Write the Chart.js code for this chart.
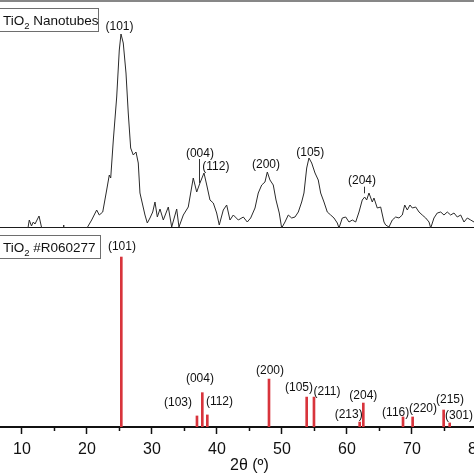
<!DOCTYPE html>
<html>
<head>
<meta charset="utf-8">
<script src="https://cdn.jsdelivr.net/npm/chart.js@4/dist/chart.umd.min.js"></script>
<style>
  html, body { margin: 0; padding: 0; background: #fff; }
  body { width: 474px; height: 474px; overflow: hidden; position: relative; }
  #topBar { position: absolute; left: 0; top: 0; width: 474px; height: 2px; background: #878787; }
  .wrap { position: absolute; left: -20px; width: 520px; }
  #topWrap { top: 2px; height: 226px; }
  #botWrap { top: 230px; height: 244px; }
</style>
</head>
<body>
<div id="topBar"></div>
<div class="wrap" id="topWrap"><canvas id="topChart"></canvas></div>
<div class="wrap" id="botWrap"><canvas id="botChart"></canvas></div>
<script>
// ================= DATA =================
// measured pattern, TiO2 nanotubes (2theta, intensity a.u.)
const twoTheta = [6.6, 10.92, 11.12, 11.46, 11.74, 12.0, 12.62, 13.03, 16.31, 16.38, 16.46, 19.08,
  19.23, 20.0, 20.72, 21.49, 21.89, 22.42, 23.03, 23.43, 23.65, 24.05, 24.57, 24.97, 25.23, 25.58,
  26.0, 26.35, 26.72, 27.12, 27.54, 27.89, 28.15, 28.57, 28.92, 29.28, 29.69, 30.11, 30.46, 30.82,
  31.23, 31.74, 32.51, 33.03, 33.8, 34.15, 34.82, 35.58, 36.35, 36.88, 37.38, 38.0, 38.42, 38.92,
  39.43, 39.95, 40.35, 40.97, 41.49, 42.0, 42.51, 43.28, 44.05, 44.66, 45.18, 45.85, 46.35, 46.88,
  47.38, 47.74, 48.15, 48.66, 49.08, 49.58, 49.95, 50.46, 50.97, 51.49, 52.0, 52.51, 53.03, 53.38,
  53.8, 54.15, 54.57, 55.08, 55.58, 55.95, 56.46, 56.97, 57.49, 58.0, 58.51, 58.77, 59.28, 59.8,
  60.31, 60.82, 61.34, 61.85, 62.35, 62.72, 63.03, 63.38, 63.89, 64.15, 64.66, 65.18, 65.69, 65.95,
  66.46, 66.97, 67.49, 68.0, 68.51, 68.88, 69.28, 69.69, 70.05, 70.57, 71.08, 71.58, 72.11, 72.62,
  72.88, 73.38, 73.89, 74.42, 74.92, 75.43, 75.95, 76.46, 76.97, 77.49, 78.0, 78.51, 79.03, 79.54];
const intensity = [0, 0, 8, 2, 6, 4, 12, 0, 0, 3, 0, 0,
  0, 0, 8, 18, 13, 16, 38, 53, 50, 88, 131, 178, 194, 185,
  155, 115, 80, 73, 76, 65, 35, 23, 13, 5, 10, 16, 26, 11,
  19, 8, 21, 1, 19, 1, 13, 21, 50, 36, 45, 55, 43, 28,
  25, 15, 3, 18, 23, 8, 13, 8, 11, 6, 10, 20, 35, 43,
  46, 56, 48, 43, 28, 15, 0, 6, 13, 10, 11, 16, 26, 35,
  60, 70, 65, 55, 48, 35, 26, 16, 13, 10, 5, 0, 10, 11,
  6, 8, 6, 16, 28, 31, 28, 35, 26, 30, 20, 21, 6, 3,
  1, 8, 11, 10, 13, 23, 18, 23, 20, 21, 16, 13, 10, 6,
  0, 10, 15, 16, 13, 16, 13, 15, 11, 13, 6, 10, 8, 6];

// reference card TiO2 #R060277
const refHkl = ["(101)", "(103)", "(004)", "(112)", "(200)", "(105)", "(211)", "(213)", "(204)", "(116)", "(220)", "(215)", "(301)"];
const refTheta = [25.28, 36.92, 37.74, 38.51, 48.0, 53.8, 54.92, 61.95, 62.51, 68.62, 70.1, 74.87, 75.8];
const refIntensity = [100, 6.5, 20.2, 7.1, 28.2, 17.6, 17.6, 2.9, 14.1, 5.9, 5.9, 10, 2.4];

// label anchors (2theta, intensity)
const refLabelTheta = [25.38, 34.0, 37.38, 40.38, 48.15, 52.62, 56.92, 60.26, 62.51, 67.49, 71.69, 75.85, 77.23];
const refLabelY = [105.9, 14.1, 28.2, 14.7, 33.1, 23.1, 20.8, 7.1, 18.2, 8.6, 10.6, 15.9, 6.6];

const topHkl = ["(101)", "(004)", "(112)", "(200)", "(105)", "(204)"];
const topLabelTheta = [25.0, 37.38, 39.82, 47.54, 54.35, 62.31];
const topLabelY = [201.3, 74.7, 61.3, 63, 75.7, 47];
const leaderTheta = [37.3, 62.62];
const leaderFrom = [69, 41.3];
const leaderTo = [45, 34.7];

const xTicks = [10, 20, 30, 40, 50, 60, 70, 80];
const xMinorTicks = [15, 25, 35, 45, 55, 65, 75];

// ================= LAYOUT =================
const X_MIN = 3.54, X_MAX = 83.54;
const SHIFT = 20; // canvas starts 20px left of the window
const FONT = "'Liberation Sans', Arial, sans-serif";
const RED = "#d8343c";

Chart.defaults.font.family = FONT;
Chart.defaults.animation = false;

function drawBox(ctx, x, y, w, h, tail) {
  ctx.save();
  ctx.fillStyle = "#fff";
  ctx.fillRect(x, y, w, h);
  ctx.strokeStyle = "#6e6e6e";
  ctx.lineWidth = 1;
  ctx.strokeRect(x + 0.5, y + 0.5, w, h);
  ctx.fillStyle = "#111";
  ctx.textBaseline = "alphabetic";
  ctx.font = "13.5px " + FONT;
  let tx = x + 4;
  const base = y + h / 2 + 5;
  ctx.fillText("TiO", tx, base);
  tx += ctx.measureText("TiO").width;
  ctx.font = "9.5px " + FONT;
  ctx.fillText("2", tx, base + 4);
  tx += ctx.measureText("2").width;
  ctx.font = "13.5px " + FONT;
  ctx.fillText(tail, tx, base);
  ctx.restore();
}

// ================= TOP PANEL =================
const topLabels = {
  id: "topLabels",
  afterDraw(chart) {
    const ctx = chart.ctx, xs = chart.scales.x, ys = chart.scales.y;
    ctx.save();
    ctx.fillStyle = "#111";
    ctx.font = "12px " + FONT;
    ctx.textAlign = "center";
    ctx.textBaseline = "middle";
    topHkl.forEach((t, i) => {
      ctx.fillText(t, xs.getPixelForValue(topLabelTheta[i]), ys.getPixelForValue(topLabelY[i]));
    });
    ctx.strokeStyle = "#333";
    ctx.lineWidth = 1;
    leaderTheta.forEach((v, i) => {
      const px = Math.round(xs.getPixelForValue(v)) + 0.5;
      ctx.beginPath();
      ctx.moveTo(px, ys.getPixelForValue(leaderFrom[i]));
      ctx.lineTo(px, ys.getPixelForValue(leaderTo[i]));
      ctx.stroke();
    });
    ctx.restore();
    drawBox(ctx, SHIFT - 1, 6, 99, 23, " Nanotubes");
  }
};

new Chart(document.getElementById("topChart"), {
  type: "line",
  data: {
    datasets: [{
      data: twoTheta.map((v, i) => ({ x: v, y: intensity[i] })),
      borderColor: "#2a2a2a",
      borderWidth: 1,
      pointRadius: 0,
      tension: 0,
      fill: false
    }]
  },
  options: {
    responsive: true,
    maintainAspectRatio: false,
    layout: { padding: 0 },
    plugins: { legend: { display: false }, tooltip: { enabled: false } },
    scales: {
      x: {
        type: "linear", min: X_MIN, max: X_MAX,
        grid: { display: false, drawTicks: false },
        border: { display: true, color: "#111", width: 2 },
        ticks: { display: false },
        afterFit(s) { s.height = 0; }
      },
      y: { display: false, min: 0, max: 226 }
    }
  },
  plugins: [topLabels]
});

// ================= BOTTOM PANEL =================
const botDecor = {
  id: "botDecor",
  afterDraw(chart) {
    const ctx = chart.ctx, xs = chart.scales.x, ys = chart.scales.y;
    const bottom = chart.chartArea.bottom;
    ctx.save();
    // minor ticks
    ctx.strokeStyle = "#111";
    ctx.lineWidth = 1.5;
    xMinorTicks.forEach(v => {
      const px = xs.getPixelForValue(v);
      ctx.beginPath();
      ctx.moveTo(px, bottom);
      ctx.lineTo(px, bottom + 4);
      ctx.stroke();
    });
    // hkl labels
    ctx.fillStyle = "#111";
    ctx.font = "12px " + FONT;
    ctx.textAlign = "center";
    ctx.textBaseline = "middle";
    refHkl.forEach((t, i) => {
      ctx.fillText(t, xs.getPixelForValue(refLabelTheta[i]), ys.getPixelForValue(refLabelY[i]));
    });
    // axis title
    ctx.font = "16px " + FONT;
    ctx.textAlign = "left";
    ctx.fillText("2θ (º)", 230 + SHIFT, 236);
    ctx.restore();
    drawBox(ctx, SHIFT - 1, 5, 101, 23, " #R060277");
  }
};

new Chart(document.getElementById("botChart"), {
  type: "bar",
  data: {
    datasets: [{
      data: refTheta.map((v, i) => ({ x: v, y: refIntensity[i] })),
      backgroundColor: RED,
      barThickness: 2,
      borderWidth: 0
    }]
  },
  options: {
    responsive: true,
    maintainAspectRatio: false,
    layout: { padding: 0 },
    plugins: { legend: { display: false }, tooltip: { enabled: false } },
    scales: {
      x: {
        type: "linear", min: X_MIN, max: X_MAX, offset: false,
        grid: { display: true, drawOnChartArea: false, offset: false, tickLength: 7, tickColor: "#111", tickWidth: 1.5 },
        border: { display: true, color: "#111", width: 2 },
        afterBuildTicks(s) { s.ticks = xTicks.map(v => ({ value: v })); },
        ticks: {
          padding: 6, maxRotation: 0, autoSkip: false,
          color: "#111", font: { size: 16 },
          callback: v => String(v)
        },
        afterFit(s) { s.height = 47; }
      },
      y: { display: false, min: 0, max: 115.9 }
    }
  },
  plugins: [botDecor]
});
</script>
</body>
</html>
